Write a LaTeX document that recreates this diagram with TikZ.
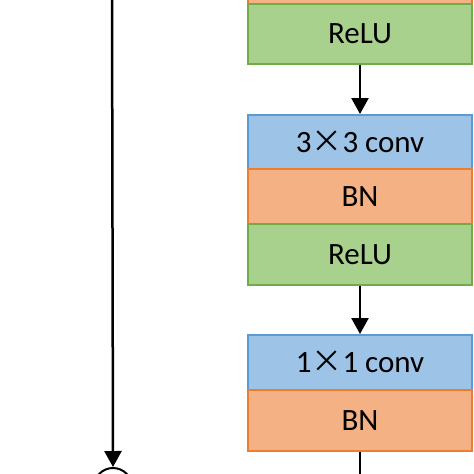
\documentclass[tikz,border=0pt]{standalone}
\usepackage{fontspec}
\setmainfont{Carlito}
\newfontfamily\cjk{Noto Sans CJK SC}
\usetikzlibrary{arrows.meta,positioning}
\definecolor{relugreen}{RGB}{169,209,142}
\definecolor{relugreenline}{RGB}{112,173,71}
\definecolor{convblue}{RGB}{157,195,230}
\definecolor{convblueline}{RGB}{91,155,213}
\definecolor{bnorange}{RGB}{244,177,131}
\definecolor{bnorangeline}{RGB}{237,125,49}

\begin{document}
\begin{tikzpicture}[x=1pt,y=-1pt,
    layer/.style={minimum width=224pt, inner sep=0pt, line width=1.5pt, anchor=north, font=\fontsize{31}{33}\selectfont},
    relu/.style={layer, fill=relugreen, draw=relugreenline},
    conv/.style={layer, fill=convblue, draw=convblueline},
    bn/.style={layer, fill=bnorange, draw=bnorangeline},
    flow/.style={line width=2.5pt, -{Triangle[width=17pt,length=16pt]}}]
    \useasboundingbox (0,0) rectangle (474,474);
    \clip (0,0) rectangle (474,474);

    % Layers (top edge / height)
    \foreach \name/\top/\h/\kind/\label in {bntop/-52/55/bn/{}, relu1/3/60/relu/ReLU, conv1/114/54/conv/{3{\cjk ×}3 conv}, bn1/168/55/bn/BN, relu2/223/61/relu/ReLU, conv2/334/55/conv/{1{\cjk ×}1 conv}, bn2/389/61/bn/BN} {
        \node[\kind, minimum height=\h pt] (\name) at (360, \top) {\label};
    }

    % Addition
    \node[circle, draw, line width=2pt, minimum size=38pt, inner sep=0pt] (add) at (113, 487) {};
    \coordinate (skip) at (112, -10);
    \coordinate (out) at (360, 500);

    % Arrows
    \draw[flow] (relu1.south) -- (conv1.north);
    \draw[flow] (relu2.south) -- (conv2.north);
    \draw[line width=2.5pt] (bn2.south) -- (out);
    \draw[flow] (skip) -- (add.north);

\end{tikzpicture}
\end{document}
